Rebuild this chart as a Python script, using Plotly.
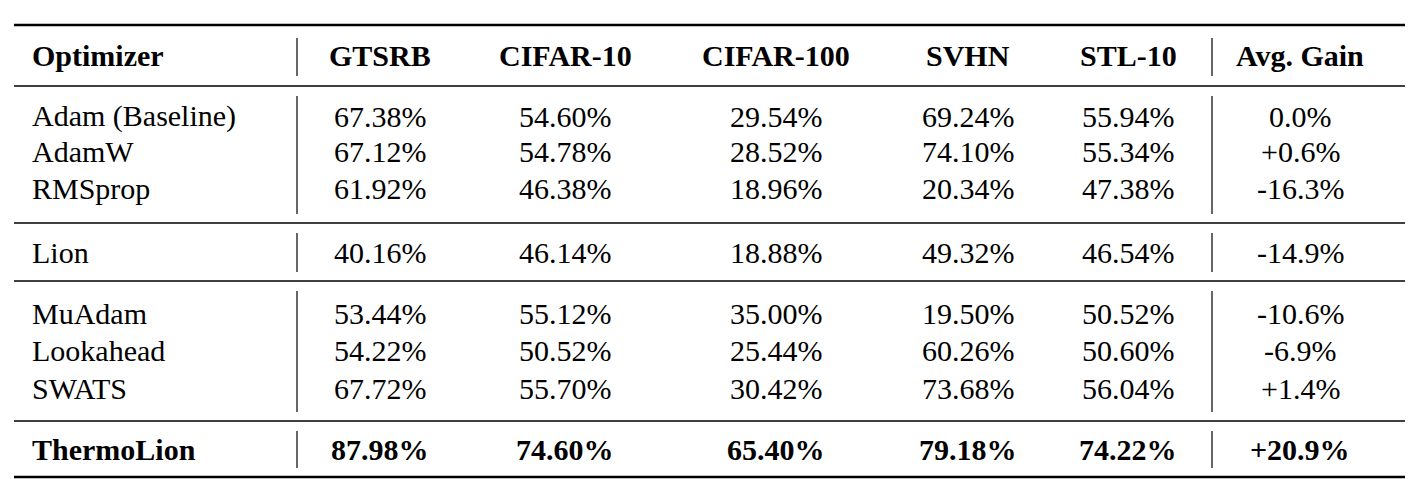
import plotly.graph_objects as go

headers = ["Optimizer", "GTSRB", "CIFAR-10", "CIFAR-100", "SVHN", "STL-10", "Avg. Gain"]
optimizers = ["Adam (Baseline)", "AdamW", "RMSprop", "Lion", "MuAdam", "Lookahead", "SWATS", "ThermoLion"]
gtsrb = ["67.38%", "67.12%", "61.92%", "40.16%", "53.44%", "54.22%", "67.72%", "87.98%"]
cifar10 = ["54.60%", "54.78%", "46.38%", "46.14%", "55.12%", "50.52%", "55.70%", "74.60%"]
cifar100 = ["29.54%", "28.52%", "18.96%", "18.88%", "35.00%", "25.44%", "30.42%", "65.40%"]
svhn = ["69.24%", "74.10%", "20.34%", "49.32%", "19.50%", "60.26%", "73.68%", "79.18%"]
stl10 = ["55.94%", "55.34%", "47.38%", "46.54%", "50.52%", "50.60%", "56.04%", "74.22%"]
avg_gain = ["0.0%", "+0.6%", "-16.3%", "-14.9%", "-10.6%", "-6.9%", "+1.4%", "+20.9%"]

# layout geometry (pixel-like coordinates)
col_x = [30, 380, 565, 776, 968, 1128, 1300]
header_y = 55
row_y = [116, 151, 188, 252, 313, 350, 388, 449]
hrules = [(25, 2.5), (86, 1.3), (223, 1.3), (281, 1.3), (421, 1.3), (477, 2.5)]
vsep_x = [297, 1212]
vseg = [(38, 76), (96, 214), (233, 272), (291, 412), (431, 468)]

font = '"Liberation Serif", "Times New Roman", serif'
fig = go.Figure()
fig.add_trace(go.Scatter(x=[8, 1419], y=[8, 479], mode="markers",
                         marker=dict(opacity=0), hoverinfo="skip", showlegend=False))

cols = [optimizers, gtsrb, cifar10, cifar100, svhn, stl10, avg_gain]
ann = []
for j, h in enumerate(headers):
    ann.append(dict(x=col_x[j], y=header_y, text=f"<b>{h}</b>",
                    xanchor="left" if j == 0 else "center", yanchor="middle",
                    showarrow=False, font=dict(family=font, size=30, color="black")))
for j, col in enumerate(cols):
    for i, v in enumerate(col):
        bold = i == len(col) - 1
        ann.append(dict(x=col_x[j], y=row_y[i], text=f"<b>{v}</b>" if bold else v,
                        xanchor="left" if j == 0 else "center", yanchor="middle",
                        showarrow=False, font=dict(family=font, size=30, color="black")))

shapes = []
for y, w in hrules:
    shapes.append(dict(type="line", x0=14, x1=1405, y0=y, y1=y, line=dict(color="black", width=w)))
for x in vsep_x:
    for a, b in vseg:
        shapes.append(dict(type="line", x0=x, x1=x, y0=a, y1=b, line=dict(color="black", width=1.2)))

fig.update_layout(width=1411, height=471, margin=dict(l=0, r=0, t=0, b=0),
                  paper_bgcolor="white", plot_bgcolor="white",
                  xaxis=dict(range=[8, 1419], visible=False, fixedrange=True),
                  yaxis=dict(range=[479, 8], visible=False, fixedrange=True),
                  annotations=ann, shapes=shapes)
fig.write_html("out.html", config={"displayModeBar": False})
